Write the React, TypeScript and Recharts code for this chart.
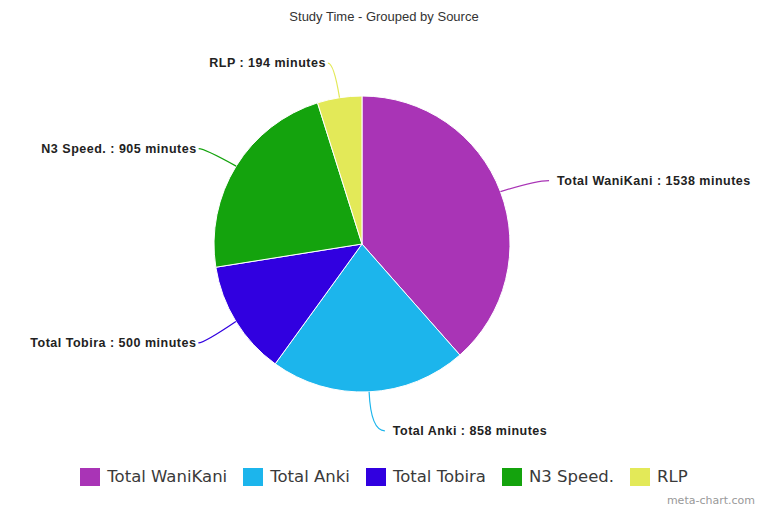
import { PieChart, Pie, Cell, Legend } from 'recharts';

const sources = ['Total WaniKani', 'Total Anki', 'Total Tobira', 'N3 Speed.', 'RLP'];
const minutes = [1538, 858, 500, 905, 194];
const colors = ['#a934b6', '#1cb5ec', '#3100e0', '#14a30d', '#e3e958'];

const data = sources.map((name, i) => ({ name, value: minutes[i] }));

const RAD = Math.PI / 180;

const renderLabel = (props: any) => {
    const { cx, cy, midAngle, outerRadius, name, value, index } = props;
    const cos = Math.cos(-midAngle * RAD);
    const sin = Math.sin(-midAngle * RAD);
    const sx = cx + outerRadius * cos;
    const sy = cy + outerRadius * sin;
    const bx = cx + (outerRadius + 37) * cos;
    const by = cy + (outerRadius + 37) * sin + 2;
    const right = cos >= 0;
    const ex = bx + (right ? 14 : -6);
    const ey = by;
    const color = colors[index % colors.length];
    return (
        <g>
            <path d={`M${sx},${sy} Q${bx},${by} ${ex},${ey}`} stroke={color} strokeWidth={1.2} fill="none" />
            <text
                x={ex + (right ? 8 : -2)}
                y={ey}
                textAnchor={right ? 'start' : 'end'}
                dominantBaseline="central"
                fontFamily="Liberation Sans, Arial, sans-serif"
                fontSize={12.5}
                fontWeight="bold"
                letterSpacing={0.5}
                fill="#222"
            >
                {`${name} : ${value} minutes`}
            </text>
        </g>
    );
};

const LegendContent = () => (
    <div style={{ display: 'flex', justifyContent: 'center', alignItems: 'center', gap: 16, fontFamily: 'DejaVu Sans, sans-serif', fontSize: 16.5, color: '#3a3a3a' }}>
        {sources.map((s, i) => (
            <div key={s} style={{ display: 'flex', alignItems: 'center' }}>
                <span style={{ display: 'inline-block', width: 20, height: 18, background: colors[i], marginRight: 7 }} />
                <span>{s}</span>
            </div>
        ))}
    </div>
);

const App = () => {
    return (
        <div style={{ position: 'absolute', left: 0, top: 0, width: 768, height: 512, background: '#fff' }}>
            <div style={{ position: 'absolute', top: 9, left: 0, width: 768, textAlign: 'center', fontFamily: 'Liberation Sans, Arial, sans-serif', fontSize: 13, color: '#333', lineHeight: '16px' }}>
                Study Time - Grouped by Source
            </div>
            <PieChart width={768} height={512} margin={{ top: 0, right: 0, bottom: 0, left: 0 }}>
                <Pie
                    data={data}
                    dataKey="value"
                    nameKey="name"
                    cx={362}
                    cy={244}
                    outerRadius={148}
                    startAngle={90}
                    endAngle={-270}
                    stroke="#fff"
                    strokeWidth={1}
                    label={renderLabel}
                    labelLine={false}
                    isAnimationActive={false}
                >
                    {data.map((d, i) => (
                        <Cell key={d.name} fill={colors[i]} />
                    ))}
                </Pie>
                <Legend content={<LegendContent />} wrapperStyle={{ position: 'absolute', top: 467, left: 0, width: 768 }} />
            </PieChart>
            <div style={{ position: 'absolute', top: 494, right: 13, fontFamily: 'DejaVu Sans, sans-serif', fontSize: 11, color: '#999' }}>
                meta-chart.com
            </div>
        </div>
    );
};

export default App;
